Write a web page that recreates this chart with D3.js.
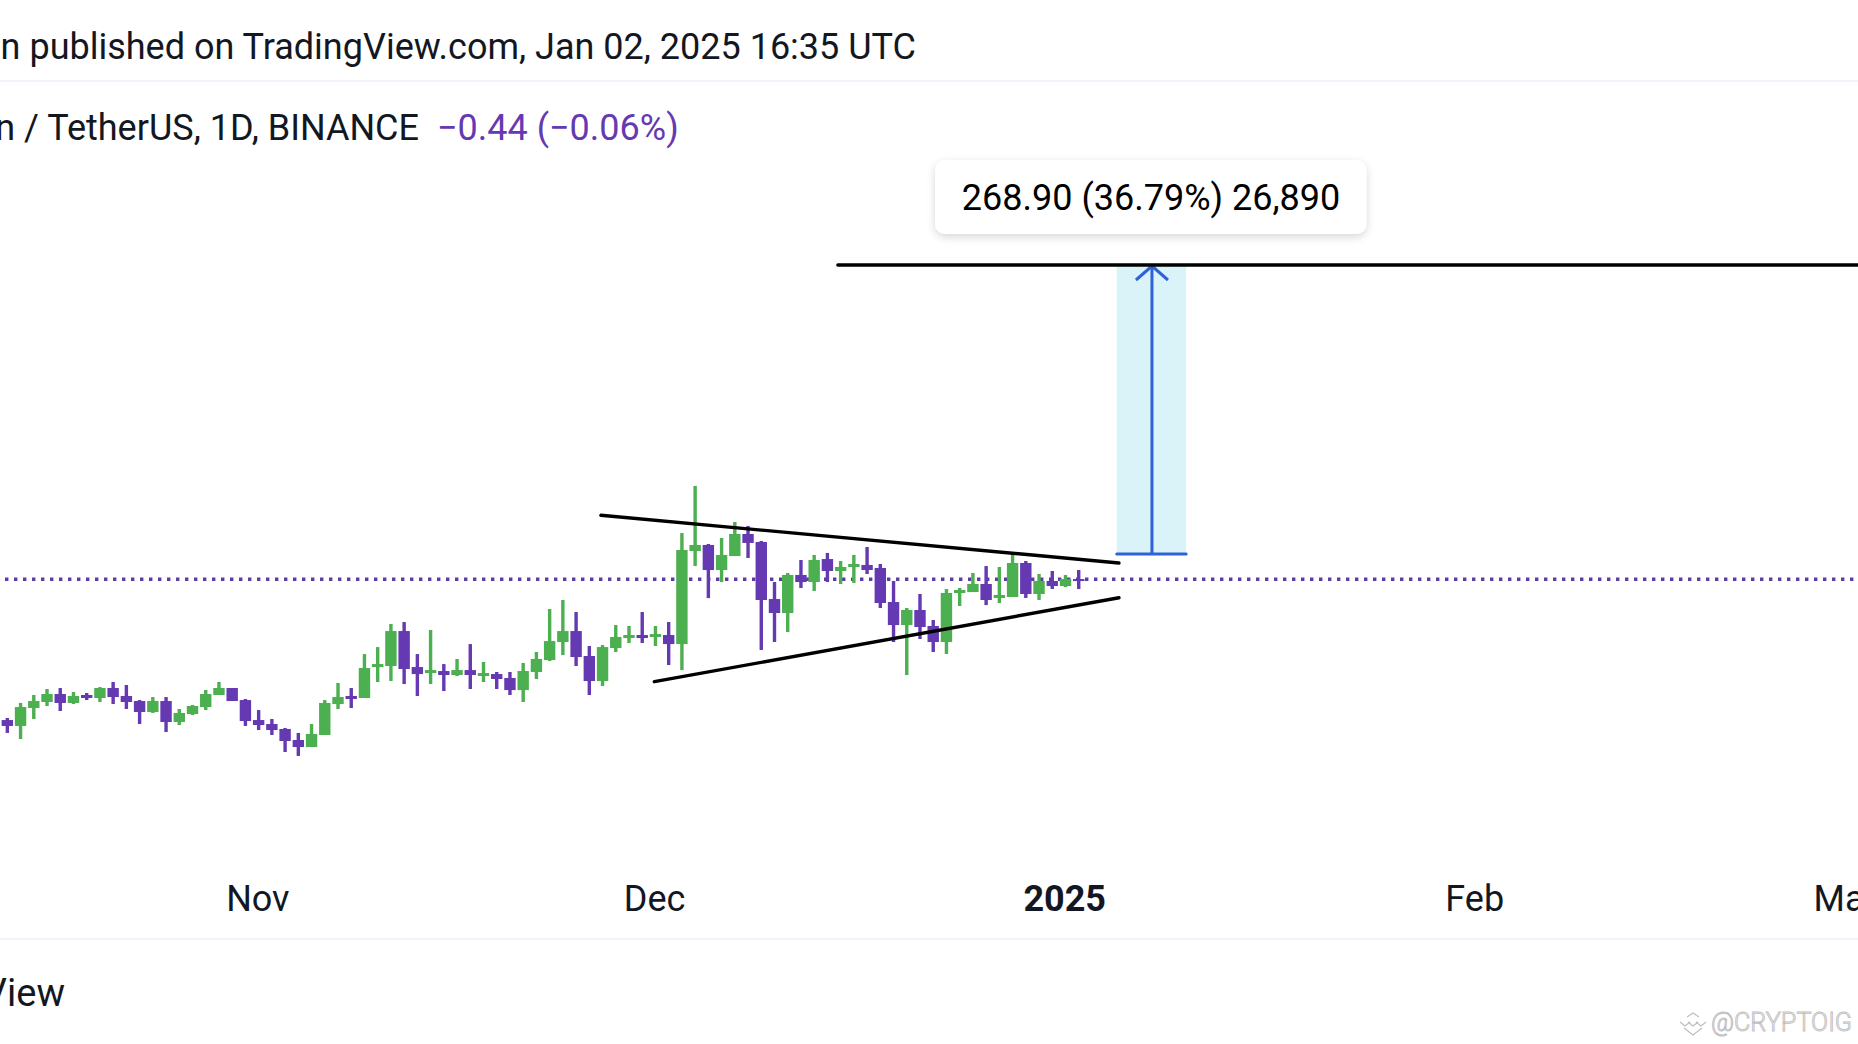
<!DOCTYPE html>
<html><head><meta charset="utf-8">
<script src="https://cdn.jsdelivr.net/npm/d3@7/dist/d3.min.js"></script>
<style>
html,body{margin:0;padding:0;background:#fff;overflow:hidden}
svg{display:block;font-family:Roboto,sans-serif}
</style></head><body>
<svg id="c" width="1858" height="1044"></svg>
<script>
const opens=[576.4,570.9,587.6,593.2,600.6,592.3,599.7,596.9,606.2,598.8,594.1,583.9,594.1,574.6,582.0,588.5,599.7,606.2,595.0,576.4,572.7,568.1,557.8,551.3,562.5,591.3,
598.8,596.9,625.7,626.7,659.2,625.7,620.2,622.0,618.3,622.9,617.4,619.2,615.5,604.3,621.1,632.3,649.0,659.2,636.0,612.7,643.4,652.7,655.5,653.7,
655.5,647.1,733.7,739.3,716.0,729.0,749.5,742.1,689.0,676.0,711.4,704.8,726.2,715.1,718.8,720.7,717.9,686.2,664.8,678.8,
663.9,649.0,694.6,695.5,703.0,690.0,690.9,722.5,693.7,705.8,701.1,707.6];
const highs=[578.3,592.3,599.7,605.3,606.2,602.5,601.6,607.1,611.8,609.0,595.0,597.8,597.8,586.7,590.4,604.4,611.8,606.2,596.0,585.7,577.4,569.0,564.4,572.7,595.0,610.9,
606.2,637.8,644.3,665.8,667.6,637.8,660.2,628.5,633.2,647.1,630.4,621.1,621.1,629.5,639.7,679.7,688.1,676.9,645.3,646.2,664.8,663.9,676.9,663.9,
667.6,750.4,794.2,740.2,745.8,760.7,757.0,743.0,704.8,713.2,725.3,730.0,731.9,724.4,730.0,737.4,721.6,705.8,680.7,693.7,
669.5,698.3,699.3,713.2,719.7,718.8,730.9,724.4,712.3,715.1,711.4,716.0];
const lows=[564.4,558.8,577.4,589.5,584.8,591.3,595.0,593.2,591.3,586.7,572.7,583.0,565.3,571.8,581.1,585.7,599.7,594.1,570.9,567.1,562.5,546.7,543.0,551.3,562.5,586.7,
587.6,596.9,611.8,612.7,609.9,598.8,609.9,603.4,617.4,605.3,611.8,605.3,599.7,593.2,614.6,631.3,636.9,626.7,599.7,608.1,639.7,648.1,648.1,645.3,
627.6,622.9,719.7,689.9,704.8,729.0,727.2,641.6,649.0,658.3,699.3,696.5,704.8,703.0,704.0,712.3,680.7,649.0,618.3,651.8,
639.7,637.9,682.5,695.5,683.4,685.3,690.9,690.0,688.1,698.3,700.2,698.3];
const closes=[570.9,588.5,594.1,600.6,592.3,598.8,596.9,606.2,597.8,593.2,583.9,594.1,574.6,583.0,589.5,600.6,606.2,594.1,575.5,571.8,567.1,556.9,551.3,563.4,592.3,597.8,
596.0,624.8,628.5,659.2,623.9,619.2,622.9,618.3,622.9,618.3,620.2,614.6,604.3,622.0,633.2,649.9,659.2,635.0,612.7,644.3,653.7,655.5,652.7,656.4,
647.1,734.6,739.3,716.0,730.0,749.5,741.2,688.1,676.0,711.4,704.8,725.3,715.1,718.8,721.6,716.0,685.3,664.8,678.8,663.0,
649.0,694.6,697.4,703.0,688.1,692.8,722.5,693.7,705.8,701.1,707.6,706.7];
const tickDates=["2024-11-01","2024-12-01","2025-01-01","2025-02-01","2025-03-01"];
const tickLabels=["Nov","Dec","2025","Feb","Mar"];
const lastClose=707.4;
const measureFrom=730.9, measureTo=999.8;
const upperTrend=[["2024-11-26T21:00Z",766.9],["2025-01-05T01:00Z",722.5]];
const lowerTrend=[["2024-11-30T22:00Z",612.1],["2025-01-05T01:00Z",690.2]];
const targetLine=[["2024-12-14T19:00Z",999.8],["2025-03-05T00:00Z",999.8]];
const measureDates=["2025-01-04T21:00Z","2025-01-10T03:00Z"];
const measureLabel="268.90 (36.79%) 26,890";

const GREEN="#4caf50",PURPLE="#6439b2",INK="#131722",BLUE="#2f62d9";
const dates=d3.utcDay.range(new Date("2024-10-13T00:00Z"),new Date("2025-01-03T00:00Z"));
const x=d3.scaleUtc().domain([new Date("2024-10-13T00:00Z"),new Date("2025-01-03T00:00Z")]).range([7.33,7.33+13.227*82]);
const y=d3.scaleLinear().domain([measureFrom,measureTo]).range([554,265]);
const svg=d3.select("#c");
const defs=svg.append("defs");
const f=defs.append("filter").attr("id","sh").attr("x","-10%").attr("y","-20%").attr("width","120%").attr("height","150%");
f.append("feDropShadow").attr("dx",0).attr("dy",3).attr("stdDeviation",4).attr("flood-color","#000").attr("flood-opacity",.16);

// header / footer
svg.append("text").attr("x",916).attr("y",59).attr("text-anchor","end").attr("font-size",36).attr("fill",INK)
  .text("n published on TradingView.com, Jan 02, 2025 16:35 UTC");
svg.append("rect").attr("x",0).attr("y",80).attr("width",1858).attr("height",2).attr("fill","#f0f3fa");
svg.append("text").attr("x",419).attr("y",140).attr("text-anchor","end").attr("font-size",36).attr("fill",INK)
  .text("n / TetherUS, 1D, BINANCE");
svg.append("text").attr("x",437).attr("y",140).attr("font-size",36).attr("fill",PURPLE).text("\u22120.44 (\u22120.06%)");
svg.append("rect").attr("x",0).attr("y",938).attr("width",1858).attr("height",2).attr("fill","#f0f3fa");
svg.append("text").attr("x",65).attr("y",1006).attr("text-anchor","end").attr("font-size",38).attr("fill",INK).text("View");

// last price line
svg.append("line").attr("x1",5).attr("x2",1858).attr("y1",y(lastClose)).attr("y2",y(lastClose))
  .attr("stroke","#5f3aa6").attr("stroke-width",3.4).attr("stroke-dasharray","3.4 5.6");

// measure tool
const mx0=x(new Date(measureDates[0])),mx1=x(new Date(measureDates[1])),mc=(mx0+mx1)/2;
svg.append("rect").attr("x",mx0).attr("y",y(measureTo)).attr("width",mx1-mx0).attr("height",y(measureFrom)-y(measureTo)).attr("fill","#d9f3f9");
svg.append("line").attr("x1",mc+.5).attr("x2",mc+.5).attr("y1",y(measureTo)).attr("y2",y(measureFrom)).attr("stroke",BLUE).attr("stroke-width",3);
svg.append("line").attr("x1",mx0).attr("x2",mx1).attr("y1",y(measureFrom)).attr("y2",y(measureFrom)).attr("stroke",BLUE).attr("stroke-width",3).attr("stroke-linecap","round");
svg.append("path").attr("d",`M${mc-15.5},${y(measureTo)+15}L${mc+.5},${y(measureTo)+1}L${mc+16.5},${y(measureTo)+15}`)
  .attr("fill","none").attr("stroke",BLUE).attr("stroke-width",3);

// candles
const idx=d3.range(dates.length);
const g=svg.append("g");
const col=i=>closes[i]<opens[i]?PURPLE:GREEN;
const ctr=i=>x(dates[i]);
g.selectAll(".w").data(idx).join("rect").attr("x",i=>ctr(i)-1.7).attr("width",3.4)
  .attr("y",i=>y(highs[i])).attr("height",i=>y(lows[i])-y(highs[i])).attr("fill",col);
g.selectAll(".b").data(idx).join("rect").attr("x",i=>ctr(i)-5.7).attr("width",11.4)
  .attr("y",i=>y(Math.max(opens[i],closes[i]))).attr("height",i=>Math.max(2,Math.abs(y(opens[i])-y(closes[i])))).attr("fill",col);

// trend lines
const ln=d3.line().x(d=>x(new Date(d[0]))).y(d=>y(d[1]));
[upperTrend,lowerTrend,targetLine].forEach(t=>{
  svg.append("path").attr("d",ln(t)).attr("fill","none").attr("stroke","#000").attr("stroke-width",3.4).attr("stroke-linecap","round");
});

// label
svg.append("rect").attr("x",935).attr("y",160).attr("width",431.5).attr("height",74).attr("rx",10).attr("fill","#fff").attr("filter","url(#sh)");
svg.append("text").attr("x",1151).attr("y",210).attr("text-anchor","middle").attr("font-size",36).attr("fill","#000").text(measureLabel);

// time axis
const axis=d3.axisBottom(x).tickValues(tickDates.map(d=>new Date(d+"T00:00Z"))).tickSize(0).tickPadding(0)
  .tickFormat((d,i)=>tickLabels[i]);
const ax=svg.append("g").attr("transform","translate(-1.3,911)").call(axis);
ax.select(".domain").remove();
ax.selectAll("text").attr("y",0).attr("dy",0).attr("font-family","Roboto,sans-serif").attr("font-size",36).attr("fill",INK)
  .attr("font-weight",(d,i)=>tickLabels[i]==="2025"?700:400);

// watermark
const wm=svg.append("g").attr("fill","none").attr("stroke","#bdbdbd").attr("stroke-width",1.1);
wm.append("text").attr("x",1711).attr("y",1031).attr("font-size",25.2).attr("font-weight",300).attr("fill","#fff").attr("stroke-width",.9).text("@CRYPTOIG");
["M1680,1022l5,4l5,-4","M1696,1022l5,4l5,-4","M1687,1017l6,-4l6,4","M1688,1022l5,4l5,-4","M1684,1028l9,7l9,-7"].forEach(d=>wm.append("path").attr("d",d));
</script>
</body></html>
